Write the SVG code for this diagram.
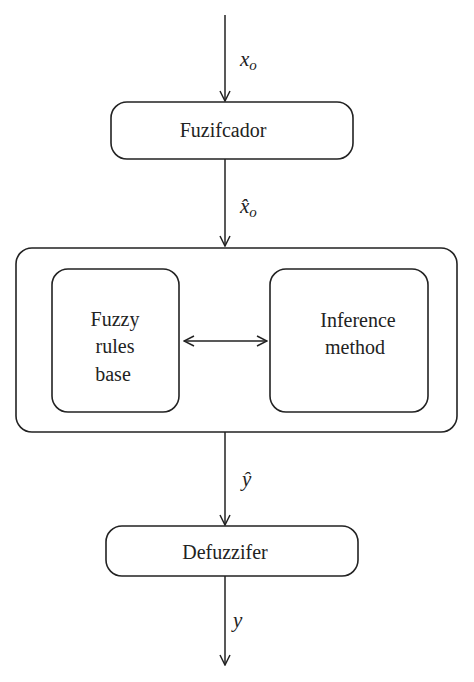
<svg xmlns="http://www.w3.org/2000/svg" width="474" height="682" viewBox="0 0 474 682">
<style>
.box{fill:#fff;stroke:#222;stroke-width:1.6}
.t{font-family:"Liberation Serif",serif;font-size:20px;fill:#222;text-anchor:middle}
.m{font-family:"Liberation Serif",serif;font-style:italic;font-size:21px;fill:#222}
.c{stroke:#222;stroke-width:1.5;fill:none}
</style>
<defs>
<marker id="ah" viewBox="0 0 12 12" refX="11" refY="6" markerWidth="12" markerHeight="12" markerUnits="userSpaceOnUse" orient="auto-start-reverse">
<path d="M1,1 L11,6 L1,11" fill="none" stroke="#222" stroke-width="1.5"/>
</marker>
</defs>
<rect width="474" height="682" fill="#fff"/>
<g id="fuzifcador">
<rect class="box" x="111" y="102" width="242" height="57" rx="16"/>
<text class="t" x="223" y="137">Fuzifcador</text>
</g>
<g id="inference-system">
<rect class="box" x="16" y="248" width="441" height="184" rx="16"/>
</g>
<g id="fuzzy-rules-base">
<rect class="box" x="52" y="269" width="127" height="143" rx="16"/>
<text class="t" x="115" y="326">Fuzzy</text>
<text class="t" x="115" y="353">rules</text>
<text class="t" x="113" y="381">base</text>
</g>
<g id="inference-method">
<rect class="box" x="270" y="269" width="158" height="143" rx="16"/>
<text class="t" x="358" y="327">Inference</text>
<text class="t" x="355" y="354">method</text>
</g>
<g id="defuzzifer">
<rect class="box" x="106" y="526" width="252" height="50" rx="16"/>
<text class="t" x="225" y="559">Defuzzifer</text>
</g>
<g id="connectors">
<line class="c" x1="225" y1="15" x2="225" y2="101" marker-end="url(#ah)"/>
<line class="c" x1="225" y1="159" x2="225" y2="246" marker-end="url(#ah)"/>
<line class="c" x1="184" y1="341" x2="267" y2="341" marker-start="url(#ah)" marker-end="url(#ah)"/>
<line class="c" x1="225" y1="432" x2="225" y2="525" marker-end="url(#ah)"/>
<line class="c" x1="225" y1="576" x2="225" y2="665" marker-end="url(#ah)"/>
<text class="m" x="240" y="66">x<tspan font-size="15" dy="4">o</tspan></text>
<text class="m" x="240" y="213">x̂<tspan font-size="15" dy="4">o</tspan></text>
<text class="m" x="242" y="486">ŷ</text>
<text class="m" x="233" y="627">y</text>
</g>
</svg>
